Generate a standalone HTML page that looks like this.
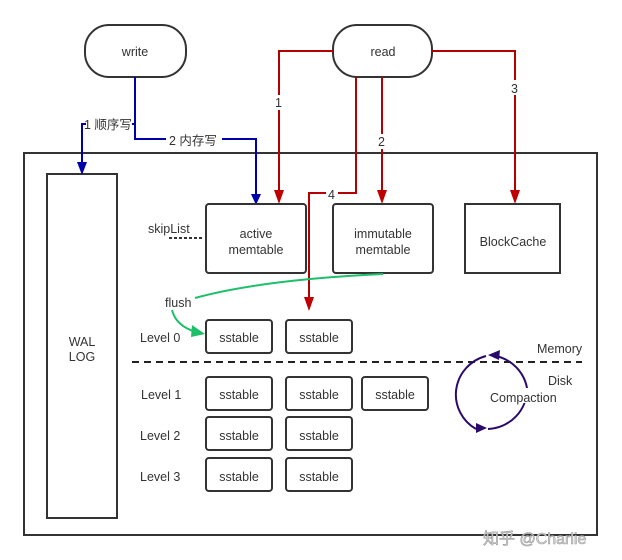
<!DOCTYPE html>
<html><head><meta charset="utf-8"><style>
html,body{margin:0;padding:0;background:#fff;}
svg{display:block;}
text{font-family:"Liberation Sans","Noto Sans CJK SC",sans-serif;font-size:12.5px;fill:#333;}
</style></head><body>
<svg width="622" height="560" viewBox="0 0 622 560" xmlns="http://www.w3.org/2000/svg">
<defs>
<marker id="ab" markerWidth="10" markerHeight="10" refX="5" refY="9" orient="auto" markerUnits="userSpaceOnUse"><path d="M0,0 L10,0 L5,10z" fill="#0000aa" transform="rotate(0)"/></marker>
</defs>
<rect width="622" height="560" fill="#fff"/>
<!-- outer box -->
<rect x="24" y="153" width="573" height="382" fill="none" stroke="#333" stroke-width="2"/>
<rect x="47" y="174" width="70" height="344" fill="none" stroke="#333" stroke-width="2"/>
<text x="82" y="346" text-anchor="middle">WAL</text>
<text x="82" y="361" text-anchor="middle">LOG</text>
<!-- pills -->
<rect x="85" y="25" width="101" height="52" rx="24" fill="#fff" stroke="#333" stroke-width="2"/>
<text x="135" y="56" text-anchor="middle">write</text>
<rect x="333" y="25" width="99" height="52" rx="24" fill="#fff" stroke="#333" stroke-width="2"/>
<text x="383" y="56" text-anchor="middle">read</text>
<!-- blue lines -->
<g stroke="#0000aa" stroke-width="2" fill="none">
<path d="M135,77 V139 H256 V206"/>
<path d="M135,124 H82 V164"/>
</g>
<path d="M77,162 L87,162 L82,175z" fill="#0000aa"/>
<path d="M251,194 L261,194 L256,205z" fill="#0000aa"/>
<rect x="86" y="117" width="46" height="15" fill="#fff"/>
<text x="84" y="129">1 顺序写</text>
<rect x="166" y="132" width="56" height="15" fill="#fff"/>
<text x="169" y="145">2 内存写</text>
<!-- red lines -->
<g stroke="#b30000" stroke-width="2" fill="none">
<path d="M333,51 H279 V192"/>
<path d="M432,51 H515 V192"/>
<path d="M382,77 V192"/>
<path d="M356,77 V193 H309 V300"/>
</g>
<g fill="#c00000">
<path d="M274,190 L284,190 L279,204z"/>
<path d="M377,190 L387,190 L382,204z"/>
<path d="M510,190 L520,190 L515,204z"/>
<path d="M304,297 L314,297 L309,311z"/>
</g>
<rect x="273" y="95" width="12" height="15" fill="#fff"/><text x="275" y="107">1</text>
<rect x="376" y="134" width="12" height="15" fill="#fff"/><text x="378" y="146">2</text>
<rect x="509" y="80" width="12" height="15" fill="#fff"/><text x="511" y="93">3</text>
<rect x="326" y="187" width="12" height="14" fill="#fff"/><text x="328" y="199">4</text>
<!-- memtables -->
<g fill="#fff" stroke="#333" stroke-width="2">
<rect x="206" y="204" width="100" height="69" rx="3"/>
<rect x="333" y="204" width="100" height="69" rx="3"/>
<rect x="465" y="204" width="95" height="69"/>
</g>
<text x="256" y="238" text-anchor="middle">active</text>
<text x="256" y="254" text-anchor="middle">memtable</text>
<text x="383" y="238" text-anchor="middle">immutable</text>
<text x="383" y="254" text-anchor="middle">memtable</text>
<text x="513" y="246" text-anchor="middle">BlockCache</text>
<text x="148" y="233">skipList</text>
<line x1="169" y1="238" x2="202" y2="238" stroke="#333" stroke-width="2" stroke-dasharray="3,2"/>
<!-- flush -->
<path d="M383,274 Q260,280 195,298" stroke="#1dbf6a" stroke-width="2" fill="none"/>
<path d="M172,310 Q176,326 196,332" stroke="#1dbf6a" stroke-width="2" fill="none"/>
<path d="M192,325 L205,334 L191,337z" fill="#1dbf6a"/>
<text x="165" y="307">flush</text>
<!-- sstables -->
<g fill="#fff" stroke="#333" stroke-width="2">
<rect x="206" y="320" width="66" height="33" rx="3"/>
<rect x="286" y="320" width="66" height="33" rx="3"/>
<rect x="206" y="377" width="66" height="33" rx="3"/>
<rect x="286" y="377" width="66" height="33" rx="3"/>
<rect x="362" y="377" width="66" height="33" rx="3"/>
<rect x="206" y="417" width="66" height="33" rx="3"/>
<rect x="286" y="417" width="66" height="33" rx="3"/>
<rect x="206" y="458" width="66" height="33" rx="3"/>
<rect x="286" y="458" width="66" height="33" rx="3"/>
</g>
<g text-anchor="middle">
<text x="239" y="342">sstable</text><text x="319" y="342">sstable</text>
<text x="239" y="399">sstable</text><text x="319" y="399">sstable</text><text x="395" y="399">sstable</text>
<text x="239" y="440">sstable</text><text x="319" y="440">sstable</text>
<text x="239" y="481">sstable</text><text x="319" y="481">sstable</text>
</g>
<text x="140" y="342">Level 0</text>
<text x="141" y="399">Level 1</text>
<text x="140" y="440">Level 2</text>
<text x="140" y="481">Level 3</text>
<line x1="132" y1="362" x2="582" y2="362" stroke="#222" stroke-width="2" stroke-dasharray="7,5"/>
<text x="537" y="353">Memory</text>
<text x="548" y="385">Disk</text>
<!-- compaction -->
<path d="M486,356 A41,40 0 0,0 476,429" stroke="#2a0a6a" stroke-width="2" fill="none"/>
<path d="M488,429 A41,40 0 0,0 527,388" stroke="#2a0a6a" stroke-width="2" fill="none"/>
<path d="M527,388 A41,40 0 0,0 496,356" stroke="#2a0a6a" stroke-width="2" fill="none"/>
<path d="M476,423 L487,428 L476,433z" fill="#2a0a6a"/>
<path d="M488,355 L500,350 L499,360z" fill="#2a0a6a"/>
<rect x="489" y="388" width="74" height="15" fill="#fff"/>
<text x="490" y="402">Compaction</text>
<!-- watermark -->
<text x="483" y="544" style="font-size:16px;fill:#ddd;stroke:#999;stroke-width:0.6">知乎 @Charlie</text>
</svg>
</body></html>
